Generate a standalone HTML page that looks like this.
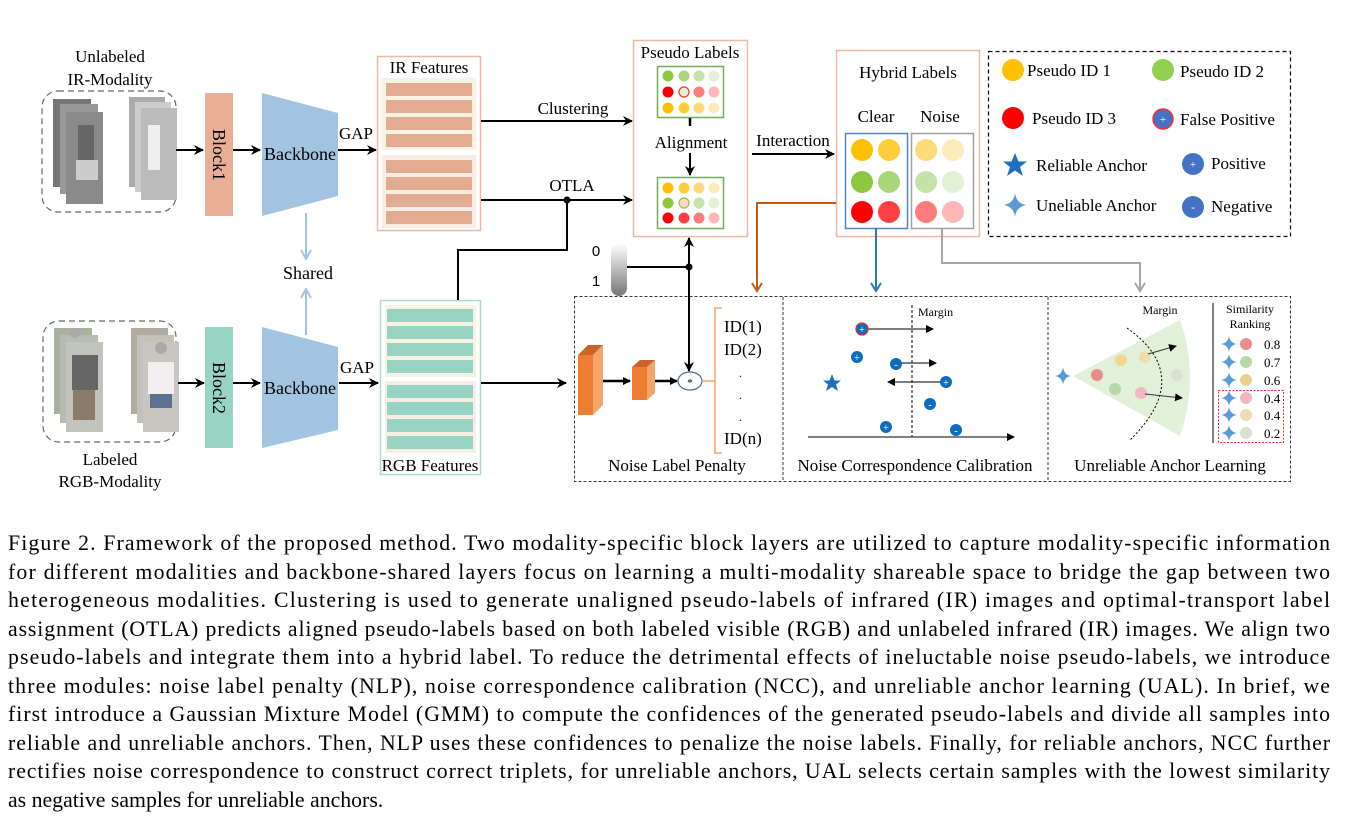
<!DOCTYPE html>
<html><head><meta charset="utf-8"><style>
html,body{margin:0;padding:0;background:#fff;}
svg{display:block;}
text{font-family:"Liberation Serif",serif;fill:#000;}
</style></head><body>
<svg width="1349" height="829" viewBox="0 0 1349 829" xmlns="http://www.w3.org/2000/svg">
<defs>
<marker id="ab" markerWidth="10" markerHeight="10" refX="9" refY="5" orient="auto" markerUnits="userSpaceOnUse"><path d="M0,0 L10,5 L0,10 L3,5 z" fill="#000"/></marker>
<marker id="abs" markerWidth="8" markerHeight="8" refX="7" refY="4" orient="auto" markerUnits="userSpaceOnUse"><path d="M0,0 L8,4 L0,8 z" fill="#000"/></marker>
<marker id="alb" markerWidth="12" markerHeight="12" refX="11" refY="6" orient="auto" markerUnits="userSpaceOnUse"><path d="M2,1 L11,6 L2,11" fill="none" stroke="#A3C4E0" stroke-width="2"/></marker>
<marker id="ao" markerWidth="12" markerHeight="12" refX="10" refY="6" orient="auto" markerUnits="userSpaceOnUse"><path d="M2,1 L10,6 L2,11" fill="none" stroke="#C55A11" stroke-width="2"/></marker>
<marker id="abl" markerWidth="12" markerHeight="12" refX="10" refY="6" orient="auto" markerUnits="userSpaceOnUse"><path d="M2,1 L10,6 L2,11" fill="none" stroke="#2E75B6" stroke-width="2"/></marker>
<marker id="ag" markerWidth="12" markerHeight="12" refX="10" refY="6" orient="auto" markerUnits="userSpaceOnUse"><path d="M2,1 L10,6 L2,11" fill="none" stroke="#A6A6A6" stroke-width="2"/></marker>
<linearGradient id="sw" x1="0" y1="0" x2="0" y2="1"><stop offset="0" stop-color="#fff"/><stop offset="1" stop-color="#777"/></linearGradient>
</defs>

<!-- IR images -->
<text x="110" y="62" font-size="17" text-anchor="middle">Unlabeled</text>
<text x="110" y="85" font-size="17" text-anchor="middle">IR-Modality</text>
<rect x="42" y="91" width="134" height="121" rx="16" fill="none" stroke="#666" stroke-dasharray="6,4" stroke-width="1.2"/>
<rect x="53" y="99" width="38" height="88" fill="#777"/>
<rect x="60" y="104" width="38" height="90" fill="#999"/>
<rect x="66" y="112" width="37" height="92" fill="#8a8a8a"/>
<rect x="78" y="125" width="16" height="35" fill="#666"/><rect x="76" y="160" width="22" height="20" fill="#ccc"/>
<rect x="129" y="97" width="36" height="90" fill="#aaa"/>
<rect x="135" y="102" width="36" height="90" fill="#ccc"/>
<rect x="141" y="108" width="36" height="92" fill="#bbb"/>
<rect x="148" y="125" width="12" height="45" fill="#eee"/>

<!-- RGB images -->
<rect x="43" y="321" width="133" height="121" rx="16" fill="none" stroke="#666" stroke-dasharray="6,4" stroke-width="1.2"/>
<rect x="54" y="328" width="38" height="86" fill="#aab0a0"/>
<rect x="60" y="335" width="38" height="88" fill="#b8bcb0"/>
<rect x="66" y="342" width="37" height="90" fill="#c0c4bc"/>
<rect x="72" y="355" width="26" height="35" fill="#666"/><rect x="73" y="390" width="22" height="30" fill="#8a7c68"/>
<circle cx="75" cy="333" r="5" fill="#aaa"/>
<rect x="131" y="328" width="37" height="86" fill="#b0aaa0"/>
<rect x="137" y="335" width="37" height="88" fill="#c4c0ba"/>
<rect x="143" y="342" width="36" height="90" fill="#c8c6c0"/>
<rect x="148" y="362" width="26" height="32" fill="#f0eeee"/><rect x="150" y="394" width="22" height="14" fill="#5c7090"/>
<circle cx="161" cy="348" r="6" fill="#aaa"/>
<text x="110" y="465" font-size="17" text-anchor="middle">Labeled</text>
<text x="110" y="487" font-size="17" text-anchor="middle">RGB-Modality</text>

<!-- Blocks -->
<rect x="205" y="93" width="28" height="123" fill="#E8AE96"/>
<text transform="translate(213,155) rotate(90)" font-size="18" text-anchor="middle">Block1</text>
<rect x="205" y="327" width="28" height="121" fill="#98D4C3"/>
<text transform="translate(213,388) rotate(90)" font-size="18" text-anchor="middle">Block2</text>

<!-- Backbones -->
<polygon points="262,93 338,113 338,196 262,216" fill="#A3C4E0"/>
<text x="300" y="160" font-size="18" text-anchor="middle">Backbone</text>
<polygon points="262,327 338,347 338,430 262,448" fill="#A3C4E0"/>
<text x="300" y="394" font-size="18" text-anchor="middle">Backbone</text>

<g stroke="#000" stroke-width="2" fill="none">
<line x1="176" y1="150" x2="203" y2="150" marker-end="url(#ab)"/>
<line x1="233" y1="150" x2="260" y2="150" marker-end="url(#ab)"/>
<line x1="338" y1="150" x2="376" y2="150" marker-end="url(#ab)"/>
<line x1="178" y1="383" x2="204" y2="383" marker-end="url(#ab)"/>
<line x1="233" y1="383" x2="260" y2="383" marker-end="url(#ab)"/>
<line x1="339" y1="383" x2="378" y2="383" marker-end="url(#ab)"/>
</g>
<text x="356" y="139" font-size="17" text-anchor="middle">GAP</text>
<text x="357" y="373" font-size="17" text-anchor="middle">GAP</text>

<!-- Shared -->
<line x1="306" y1="213" x2="306" y2="259" stroke="#A3C4E0" stroke-width="2" marker-end="url(#alb)"/>
<line x1="306" y1="335" x2="306" y2="289" stroke="#A3C4E0" stroke-width="2" marker-end="url(#alb)"/>
<text x="308" y="279" font-size="18" text-anchor="middle">Shared</text>

<!-- IR Features -->
<rect x="377.5" y="56.5" width="103" height="174" fill="#fff" stroke="#F0B8A0" stroke-width="1.5"/>
<text x="429" y="73" font-size="17" text-anchor="middle">IR Features</text>
<rect x="382" y="78" width="94" height="72" fill="#F6F3E4"/>
<rect x="382" y="155" width="94" height="73" fill="#F9EDE6"/>
<g fill="#E3AC92">
<rect x="386" y="83" width="86" height="13"/><rect x="386" y="100" width="86" height="13"/><rect x="386" y="117" width="86" height="13"/><rect x="386" y="134" width="86" height="13"/>
<rect x="386" y="160" width="86" height="13"/><rect x="386" y="177" width="86" height="13"/><rect x="386" y="194" width="86" height="13"/><rect x="386" y="211" width="86" height="13"/>
</g>

<!-- RGB Features -->
<rect x="380.5" y="300.5" width="100" height="174" fill="#fff" stroke="#A8DCCF" stroke-width="1.5"/>
<rect x="385" y="305" width="91" height="72" fill="#F6F3E4"/>
<rect x="385" y="381" width="91" height="72" fill="#F9EDE6"/>
<g fill="#98D4C3">
<rect x="387" y="309" width="86" height="13"/><rect x="387" y="326" width="86" height="13"/><rect x="387" y="343" width="86" height="13"/><rect x="387" y="360" width="86" height="13"/>
<rect x="387" y="385" width="86" height="13"/><rect x="387" y="402" width="86" height="13"/><rect x="387" y="419" width="86" height="13"/><rect x="387" y="436" width="86" height="13"/>
</g>
<text x="430" y="471" font-size="17" text-anchor="middle">RGB Features</text>

<!-- connectors to pseudo labels -->
<g stroke="#000" stroke-width="2" fill="none">
<line x1="481" y1="121" x2="632" y2="121" marker-end="url(#ab)"/>
<line x1="481" y1="200" x2="632" y2="200" marker-end="url(#ab)"/>
<polyline points="458,300 458,250 567,250 567,200"/>
<line x1="481" y1="383" x2="566" y2="383" marker-end="url(#ab)"/>
<line x1="627" y1="267" x2="689" y2="267"/>
<line x1="689" y1="267" x2="689" y2="238" marker-end="url(#ab)"/>
<line x1="689" y1="267" x2="689" y2="371" marker-end="url(#ab)"/>
<line x1="752" y1="154" x2="834" y2="154" marker-end="url(#ab)"/>
</g>
<circle cx="567" cy="200" r="3.5" fill="#000"/>
<circle cx="689" cy="267" r="3.5" fill="#000"/>
<text x="573" y="114" font-size="17" text-anchor="middle">Clustering</text>
<text x="572" y="191" font-size="17" text-anchor="middle">OTLA</text>
<text x="793" y="146" font-size="17" text-anchor="middle">Interaction</text>

<!-- switch -->
<rect x="611" y="243" width="16" height="53" rx="8" fill="url(#sw)"/>
<text x="596" y="256" font-size="15" text-anchor="middle" fill="#333" style="font-family:'Liberation Sans',sans-serif">0</text>
<text x="596" y="286" font-size="15" text-anchor="middle" fill="#333" style="font-family:'Liberation Sans',sans-serif">1</text>

<!-- Pseudo Labels -->
<rect x="633.5" y="40.5" width="114" height="196" fill="#fff" stroke="#F0B8A0" stroke-width="1.5"/>
<text x="690" y="58" font-size="17" text-anchor="middle">Pseudo Labels</text>
<rect x="657.5" y="66.5" width="66" height="51" fill="#fff" stroke="#70B050" stroke-width="1.5"/>
<g>
<circle cx="668" cy="76" r="5.5" fill="#8DC63F"/><circle cx="684" cy="76" r="5.5" fill="#A9D67A"/><circle cx="699" cy="76" r="5.5" fill="#C5E2A8"/><circle cx="714" cy="76" r="5.5" fill="#E2F0D6"/>
<circle cx="668" cy="92" r="5.5" fill="#FF0000"/><circle cx="684" cy="92" r="5" fill="#E2F0D6" stroke="#FF3030" stroke-width="1.2"/><circle cx="699" cy="92" r="5.5" fill="#FF7C7C"/><circle cx="714" cy="92" r="5.5" fill="#FFB8B8"/>
<circle cx="668" cy="108" r="5.5" fill="#FFC000"/><circle cx="684" cy="108" r="5.5" fill="#FFCD3B"/><circle cx="699" cy="108" r="5.5" fill="#FFDA78"/><circle cx="714" cy="108" r="5.5" fill="#FFEBB8"/>
</g>
<line x1="690" y1="118" x2="690" y2="126" stroke="#000" stroke-width="2.5"/>
<text x="691" y="148" font-size="17" text-anchor="middle">Alignment</text>
<line x1="690" y1="153" x2="690" y2="175" stroke="#000" stroke-width="2" marker-end="url(#ab)"/>
<rect x="657.5" y="177.5" width="66" height="51" fill="#fff" stroke="#70B050" stroke-width="1.5"/>
<g>
<circle cx="668" cy="188" r="5.5" fill="#FFC000"/><circle cx="684" cy="188" r="5.5" fill="#FFCD3B"/><circle cx="699" cy="188" r="5.5" fill="#FFDA78"/><circle cx="714" cy="188" r="5.5" fill="#FFEBB8"/>
<circle cx="668" cy="203" r="5.5" fill="#8DC63F"/><circle cx="684" cy="203" r="5" fill="#F8D9C4" stroke="#8DC63F" stroke-width="1.2"/><circle cx="699" cy="203" r="5.5" fill="#C5E2A8"/><circle cx="714" cy="203" r="5.5" fill="#E2F0D6"/>
<circle cx="668" cy="218" r="5.5" fill="#FF0000"/><circle cx="684" cy="218" r="5.5" fill="#FF4040"/><circle cx="699" cy="218" r="5.5" fill="#FF7C7C"/><circle cx="714" cy="218" r="5.5" fill="#FFB8B8"/>
</g>

<!-- Hybrid Labels -->
<rect x="836.5" y="50.5" width="143" height="186" fill="#fff" stroke="#F0B8A0" stroke-width="1.5"/>
<text x="908" y="78" font-size="17" text-anchor="middle">Hybrid Labels</text>
<text x="876" y="122" font-size="17" text-anchor="middle">Clear</text>
<text x="940" y="122" font-size="17" text-anchor="middle">Noise</text>
<rect x="845.5" y="133.5" width="62" height="95" fill="#fff" stroke="#4A86C5" stroke-width="1.5"/>
<rect x="911.5" y="133.5" width="62" height="95" fill="#fff" stroke="#A0A0A0" stroke-width="1.5"/>
<circle cx="862" cy="150" r="11" fill="#FFC000"/><circle cx="889" cy="150" r="11" fill="#FFCD3B"/>
<circle cx="862" cy="182" r="11" fill="#8DC63F"/><circle cx="889" cy="182" r="11" fill="#A9D67A"/>
<circle cx="862" cy="212" r="11" fill="#FF0000"/><circle cx="889" cy="212" r="11" fill="#FF4040"/>
<circle cx="926" cy="150" r="11" fill="#FFDA78"/><circle cx="953" cy="150" r="11" fill="#FFEBB8"/>
<circle cx="926" cy="182" r="11" fill="#C5E2A8"/><circle cx="953" cy="182" r="11" fill="#E2F0D6"/>
<circle cx="926" cy="212" r="11" fill="#FF7C7C"/><circle cx="953" cy="212" r="11" fill="#FFB8B8"/>

<polyline points="836,203 757,203 757,291" fill="none" stroke="#C55A11" stroke-width="2" marker-end="url(#ao)"/>
<line x1="876" y1="228" x2="876" y2="291" stroke="#2E75B6" stroke-width="2" marker-end="url(#abl)"/>
<polyline points="942,228 942,263 1140,263 1140,291" fill="none" stroke="#A6A6A6" stroke-width="2" marker-end="url(#ag)"/>

<!-- Legend -->
<rect x="988.5" y="51.5" width="302" height="185" fill="none" stroke="#000" stroke-dasharray="4,3" stroke-width="1.2"/>
<circle cx="1013" cy="70" r="11" fill="#FFC000"/><text x="1027" y="76" font-size="17">Pseudo ID 1</text>
<circle cx="1163" cy="70" r="11" fill="#92D050"/><text x="1180" y="77" font-size="17">Pseudo ID 2</text>
<circle cx="1013" cy="118" r="11" fill="#FF0000"/><text x="1032" y="124" font-size="17">Pseudo ID 3</text>
<circle cx="1163" cy="119" r="10" fill="#4472C4" stroke="#FF3030" stroke-width="1.5"/><text x="1163" y="123" font-size="11" text-anchor="middle" style="fill:#fff">+</text><text x="1180" y="125" font-size="17">False Positive</text>
<polygon points="1015,153 1018.5,161.5 1027,161.5 1020,167 1023,176 1015,170.5 1007,176 1010,167 1003,161.5 1011.5,161.5" fill="#1F6FBF"/>
<text x="1036" y="171" font-size="17">Reliable Anchor</text>
<circle cx="1193" cy="164" r="11" fill="#4472C4"/><text x="1193" y="168" font-size="11" text-anchor="middle" style="fill:#fff">+</text><text x="1211" y="169" font-size="17">Positive</text>
<path d="M1015,193 Q1016,203 1026,205 Q1016,207 1015,217 Q1014,207 1004,205 Q1014,203 1015,193 z" fill="#5B9BD5"/>
<text x="1036" y="211" font-size="17">Uneliable Anchor</text>
<circle cx="1193" cy="207" r="11" fill="#4472C4"/><text x="1193" y="211" font-size="12" text-anchor="middle" style="fill:#fff">-</text><text x="1211" y="212" font-size="17">Negative</text>

<!-- Bottom module box -->
<rect x="574.5" y="296.5" width="716" height="185" fill="none" stroke="#333" stroke-dasharray="3,2" stroke-width="1"/>
<line x1="783" y1="297" x2="783" y2="481" stroke="#333" stroke-dasharray="3,2"/>
<line x1="1048" y1="297" x2="1048" y2="481" stroke="#333" stroke-dasharray="3,2"/>

<!-- NLP -->
<polygon points="578,355 588,345 603,345 593,355" fill="#C8642A"/>
<polygon points="593,355 603,345 603,405 593,415" fill="#F4A56A"/>
<rect x="578" y="355" width="15" height="60" fill="#ED7D31"/>
<polygon points="632,367 640,360 655,360 647,367" fill="#C8642A"/>
<polygon points="647,367 655,360 655,393 647,400" fill="#F4A56A"/>
<rect x="632" y="367" width="15" height="33" fill="#ED7D31"/>
<line x1="603" y1="381" x2="630" y2="381" stroke="#000" stroke-width="2.5" marker-end="url(#abs)"/>
<line x1="655" y1="381" x2="677" y2="381" stroke="#000" stroke-width="2.5" marker-end="url(#abs)"/>
<ellipse cx="690" cy="381" rx="12" ry="9" fill="#fff" stroke="#41719C" stroke-width="1.2"/>
<text x="690" y="386" font-size="11" text-anchor="middle">*</text>
<line x1="702" y1="381" x2="715" y2="381" stroke="#F4A56A" stroke-width="1.5"/>
<polyline points="722,308 715,308 715,453 722,453" fill="none" stroke="#F4A56A" stroke-width="1.5"/>
<text x="724" y="332" font-size="17">ID(1)</text>
<text x="724" y="355" font-size="17">ID(2)</text>
<text x="739" y="377" font-size="12">.</text>
<text x="739" y="399" font-size="12">.</text>
<text x="739" y="421" font-size="12">.</text>
<text x="724" y="444" font-size="17">ID(n)</text>
<text x="677" y="471" font-size="17" text-anchor="middle">Noise Label Penalty</text>

<!-- NCC -->
<line x1="912" y1="305" x2="912" y2="437" stroke="#000" stroke-dasharray="3,2"/>
<text x="918" y="316" font-size="12">Margin</text>
<g stroke="#333" stroke-width="1.2">
<line x1="866" y1="329" x2="933" y2="329" marker-end="url(#abs)"/>
<line x1="900" y1="363" x2="936" y2="363" marker-end="url(#abs)"/>
<line x1="941" y1="382" x2="888" y2="382" marker-end="url(#abs)"/>
<line x1="808" y1="437" x2="1014" y2="437" marker-end="url(#abs)"/>
</g>
<g font-size="10" text-anchor="middle">
<circle cx="862" cy="329" r="6" fill="#0F6CBD" stroke="#E03030" stroke-width="1.3"/><text x="862" y="333" style="fill:#fff">+</text>
<circle cx="857" cy="357" r="6" fill="#0F6CBD"/><text x="857" y="361" style="fill:#fff">+</text>
<circle cx="896" cy="364" r="6" fill="#0F6CBD"/><text x="896" y="368" style="fill:#fff">-</text>
<circle cx="946" cy="382" r="6" fill="#0F6CBD"/><text x="946" y="386" style="fill:#fff">+</text>
<circle cx="930" cy="404" r="6" fill="#0F6CBD"/><text x="930" y="408" style="fill:#fff">-</text>
<circle cx="886" cy="427" r="6" fill="#0F6CBD"/><text x="886" y="431" style="fill:#fff">+</text>
<circle cx="956" cy="430" r="6" fill="#0F6CBD"/><text x="956" y="434" style="fill:#fff">-</text>
</g>
<polygon points="832,374 834.5,380.5 841,380.5 836,384.5 838,391 832,387 826,391 828,384.5 823,380.5 829.5,380.5" fill="#1F6FBF"/>
<text x="915" y="471" font-size="17" text-anchor="middle">Noise Correspondence Calibration</text>

<!-- UAL -->
<path d="M1073,376 L1180,320 Q1200,376 1180,436 Z" fill="#E2EFD9"/>
<path d="M1127,328 Q1195,376 1130,440" fill="none" stroke="#000" stroke-dasharray="2,2"/>
<text x="1160" y="314" font-size="12" text-anchor="middle">Margin</text>
<path d="M1063,367 Q1064,375 1071,376 Q1064,377 1063,385 Q1062,377 1055,376 Q1062,375 1063,367 z" fill="#5B9BD5"/>
<circle cx="1097" cy="375" r="6" fill="#E88C8C"/>
<circle cx="1121" cy="360" r="6" fill="#F0D890"/>
<circle cx="1115" cy="389" r="6" fill="#B9D7A8"/>
<circle cx="1145" cy="357" r="6" fill="#EEDDB0"/>
<circle cx="1177" cy="375" r="6" fill="#D8E2D0"/>
<circle cx="1141" cy="393" r="6" fill="#F0B8C0"/>
<line x1="1148" y1="354" x2="1176" y2="346" stroke="#333" stroke-width="1" marker-end="url(#abs)"/>
<line x1="1145" y1="394" x2="1182" y2="398" stroke="#333" stroke-width="1" marker-end="url(#abs)"/>
<line x1="1213" y1="303" x2="1213" y2="443" stroke="#000" stroke-width="1"/>
<text x="1250" y="313" font-size="12" text-anchor="middle">Similarity</text>
<text x="1250" y="328" font-size="12" text-anchor="middle">Ranking</text>
<rect x="1218.5" y="390.5" width="65" height="52" fill="none" stroke="#E03030" stroke-dasharray="2,1.5" stroke-width="1"/>
<g font-size="13">
<g transform="translate(1229,344)"><path d="M0,-8 Q1,-1 8,0 Q1,1 0,8 Q-1,1 -8,0 Q-1,-1 0,-8z" fill="#5B9BD5"/></g><circle cx="1246" cy="344" r="6" fill="#E88C8C"/><text x="1264" y="349">0.8</text>
<g transform="translate(1229,362)"><path d="M0,-8 Q1,-1 8,0 Q1,1 0,8 Q-1,1 -8,0 Q-1,-1 0,-8z" fill="#5B9BD5"/></g><circle cx="1246" cy="362" r="6" fill="#B9D7A8"/><text x="1264" y="367">0.7</text>
<g transform="translate(1229,380)"><path d="M0,-8 Q1,-1 8,0 Q1,1 0,8 Q-1,1 -8,0 Q-1,-1 0,-8z" fill="#5B9BD5"/></g><circle cx="1246" cy="380" r="6" fill="#E8D08C"/><text x="1264" y="385">0.6</text>
<g transform="translate(1229,398)"><path d="M0,-8 Q1,-1 8,0 Q1,1 0,8 Q-1,1 -8,0 Q-1,-1 0,-8z" fill="#5B9BD5"/></g><circle cx="1246" cy="398" r="6" fill="#F0B8C0"/><text x="1264" y="403">0.4</text>
<g transform="translate(1229,415)"><path d="M0,-8 Q1,-1 8,0 Q1,1 0,8 Q-1,1 -8,0 Q-1,-1 0,-8z" fill="#5B9BD5"/></g><circle cx="1246" cy="415" r="6" fill="#EEDDB0"/><text x="1264" y="420">0.4</text>
<g transform="translate(1229,433)"><path d="M0,-8 Q1,-1 8,0 Q1,1 0,8 Q-1,1 -8,0 Q-1,-1 0,-8z" fill="#5B9BD5"/></g><circle cx="1246" cy="433" r="6" fill="#D8E2D0"/><text x="1264" y="438">0.2</text>
</g>
<text x="1170" y="471" font-size="17" text-anchor="middle">Unreliable Anchor Learning</text>

<!-- Caption -->
<g font-size="21.8">
<text x="8" y="550" textLength="1322" lengthAdjust="spacing">Figure 2. Framework of the proposed method.  Two modality-specific block layers are utilized to capture modality-specific information</text>
<text x="8" y="579" textLength="1322" lengthAdjust="spacing">for different modalities and backbone-shared layers focus on learning a multi-modality shareable space to bridge the gap between two</text>
<text x="8" y="607" textLength="1322" lengthAdjust="spacing">heterogeneous modalities.  Clustering is used to generate unaligned pseudo-labels of infrared (IR) images and optimal-transport label</text>
<text x="8" y="636" textLength="1322" lengthAdjust="spacing">assignment (OTLA) predicts aligned pseudo-labels based on both labeled visible (RGB) and unlabeled infrared (IR) images. We align two</text>
<text x="8" y="664" textLength="1322" lengthAdjust="spacing">pseudo-labels and integrate them into a hybrid label.  To reduce the detrimental effects of ineluctable noise pseudo-labels, we introduce</text>
<text x="8" y="693" textLength="1322" lengthAdjust="spacing">three modules: noise label penalty (NLP), noise correspondence calibration (NCC), and unreliable anchor learning (UAL). In brief, we</text>
<text x="8" y="721" textLength="1322" lengthAdjust="spacing">first introduce a Gaussian Mixture Model (GMM) to compute the confidences of the generated pseudo-labels and divide all samples into</text>
<text x="8" y="750" textLength="1322" lengthAdjust="spacing">reliable and unreliable anchors. Then, NLP uses these confidences to penalize the noise labels. Finally, for reliable anchors, NCC further</text>
<text x="8" y="778" textLength="1322" lengthAdjust="spacing">rectifies noise correspondence to construct correct triplets, for unreliable anchors, UAL selects certain samples with the lowest similarity</text>
<text x="8" y="807">as negative samples for unreliable anchors.</text>
</g>
</svg>
</body></html>
